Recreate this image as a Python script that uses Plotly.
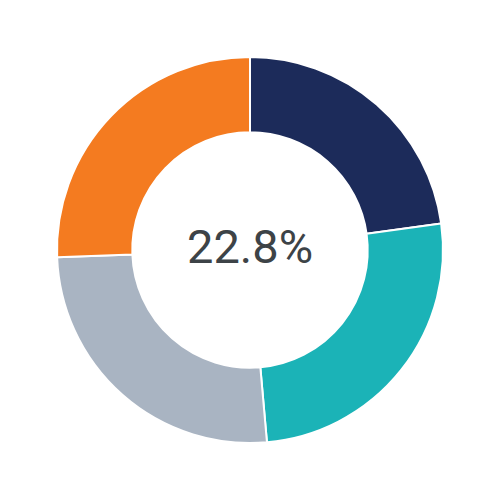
import plotly.graph_objects as go

labels = ["Navy", "Teal", "Gray", "Orange"]
values = [22.8, 25.8, 25.8, 25.6]
colors = ["#1c2b5a", "#1bb3b7", "#a9b4c2", "#f47b20"]
center_text = "22.8%"

fig = go.Figure(go.Pie(
    labels=labels,
    values=values,
    hole=0.61,
    sort=False,
    direction="clockwise",
    rotation=0,
    marker=dict(colors=colors, line=dict(color="white", width=2)),
    textinfo="none",
    hoverinfo="label+percent",
    showlegend=False,
))
fig.add_annotation(text=center_text, x=0.5, y=0.5, xref="paper", yref="paper",
                   showarrow=False, yshift=4,
                   font=dict(family="Roboto", size=47, color="#3d4347"))
fig.update_layout(width=484, height=484, margin=dict(l=49, r=49, t=49, b=49),
                  paper_bgcolor="white", plot_bgcolor="white")
fig.write_html("out.html")
